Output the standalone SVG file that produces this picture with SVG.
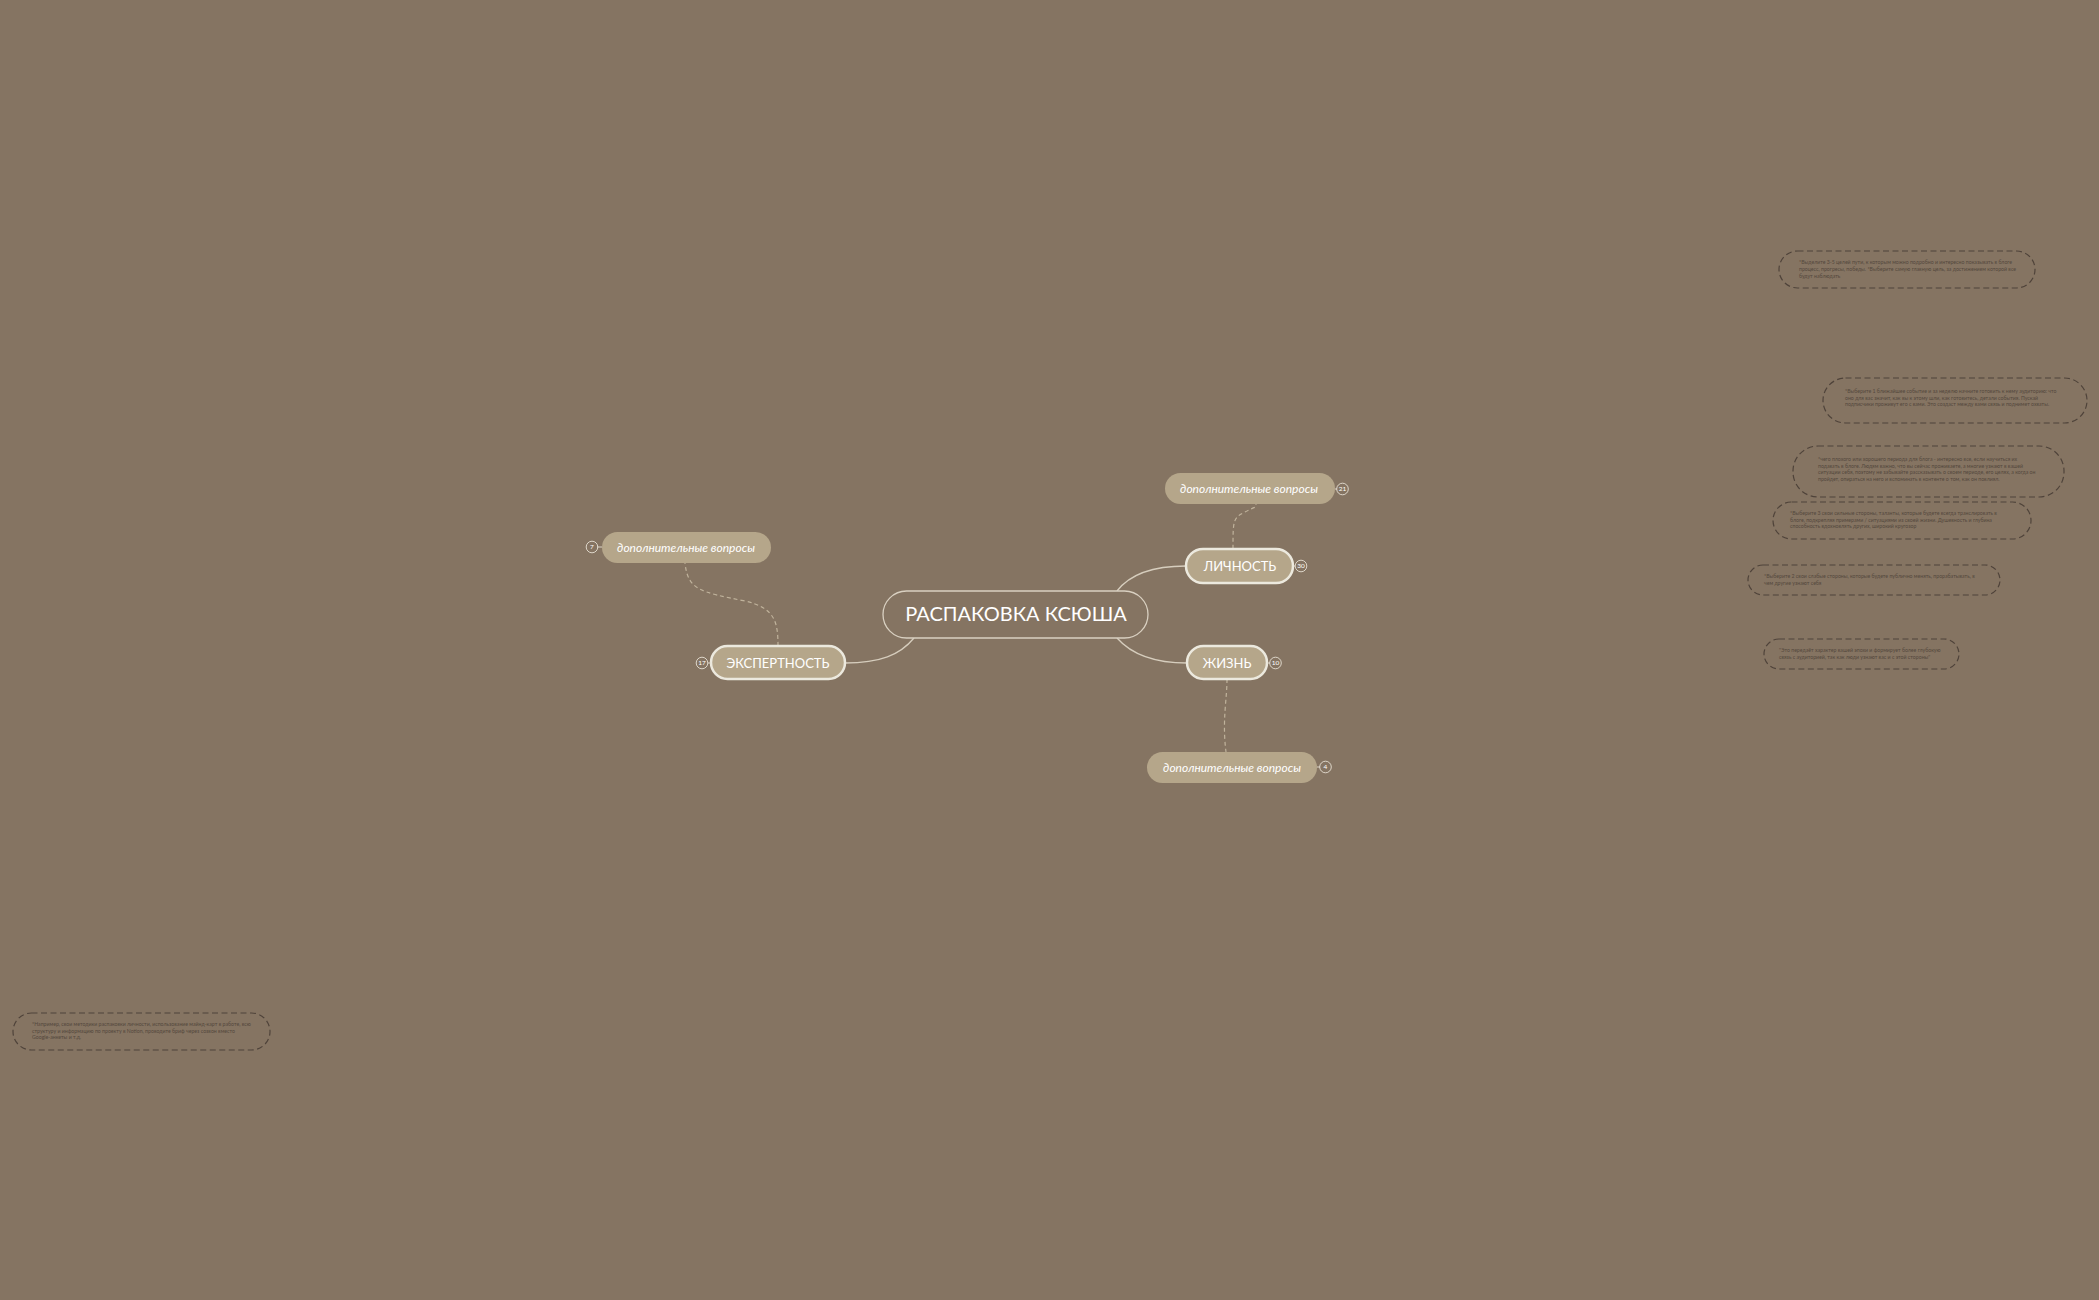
<svg xmlns="http://www.w3.org/2000/svg" width="2099" height="1300" viewBox="0 0 2099 1300">
<style>
.bg{fill:#857462}
.main rect{fill:#857462;stroke:#d9d0c1;stroke-width:1.3}
.main text{font-family:Lato,"Open Sans",sans-serif;font-size:20px;fill:#ffffff;text-anchor:middle}
.topic rect{fill:#b5a68a;stroke:#ece9de;stroke-width:2.5}
.topic text{font-family:Lato,"Open Sans",sans-serif;font-size:13px;fill:#ffffff;text-anchor:middle}
.sub rect{fill:#b5a68a}
.sub text{font-family:Lato,"Open Sans",sans-serif;font-style:italic;font-size:12px;fill:#ffffff;text-anchor:middle}
.badge circle{fill:none;stroke:#e6e0d4;stroke-width:0.9}
.badge line{stroke:#e6e0d4;stroke-width:0.9}
.badge text{font-family:Lato,"Open Sans",sans-serif;font-size:6.5px;fill:#ffffff;text-anchor:middle}
.solid{fill:none;stroke:#d6cdbd;stroke-width:1.3}
.dash{fill:none;stroke:#c0b39c;stroke-width:1.2;stroke-dasharray:4 3}
.note rect{fill:none;stroke:#4f433a;stroke-width:1.2;stroke-dasharray:6 3.5}
.note text{font-family:Lato,"Open Sans",sans-serif;font-size:5.2px;fill:#54483d}
</style>
<rect class="bg" x="0" y="0" width="2099" height="1300"/>
<g id="connectors">
<path class="solid" d="M914,638 C900,655 880,663 845,663"/>
<path class="solid" d="M1117,591 C1130,574 1155,566 1186,566"/>
<path class="solid" d="M1117,638 C1132,655 1155,663 1187,663"/>
<path class="dash" d="M1233,549 C1233,520 1233,518 1245,512 C1256,506 1256,508 1256,504"/>
<path class="dash" d="M1227,679 C1227,700 1222,720 1226,752"/>
<path class="dash" d="M778,646 C778,622 775,608 745,601 C700,592 688,590 685,563"/>
</g>
<g id="center" class="main">
<rect x="883" y="591" width="265" height="47" rx="23.5"/>
<text x="1016" y="621">РАСПАКОВКА КСЮША</text>
</g>
<g id="lichnost" class="topic">
<rect x="1186" y="549" width="107" height="34" rx="17"/>
<text x="1240" y="571">ЛИЧНОСТЬ</text>
</g>
<g id="lichnost-badge" class="badge">
<line x1="1293" y1="566" x2="1295" y2="566"/>
<circle cx="1301" cy="566" r="5.8"/>
<text x="1301" y="568.3">30</text>
</g>
<g id="zhizn" class="topic">
<rect x="1187" y="646" width="80" height="33" rx="16.5"/>
<text x="1227" y="667.5">ЖИЗНЬ</text>
</g>
<g id="zhizn-badge" class="badge">
<line x1="1267" y1="663" x2="1270" y2="663"/>
<circle cx="1275.5" cy="663" r="5.8"/>
<text x="1275.5" y="665.3">10</text>
</g>
<g id="expert" class="topic">
<rect x="711" y="646" width="134" height="33" rx="16.5"/>
<text x="778" y="667.5">ЭКСПЕРТНОСТЬ</text>
</g>
<g id="expert-badge" class="badge">
<line x1="708" y1="663" x2="711" y2="663"/>
<circle cx="702" cy="663" r="5.8"/>
<text x="702" y="665.3">17</text>
</g>
<g id="dop-lichnost" class="sub">
<rect x="1165" y="473" width="170" height="31" rx="15.5"/>
<text x="1249" y="493">дополнительные вопросы</text>
</g>
<g id="dop-lichnost-badge" class="badge">
<line x1="1335" y1="489" x2="1337" y2="489"/>
<circle cx="1342.5" cy="489" r="5.8"/>
<text x="1342.5" y="491.3">21</text>
</g>
<g id="dop-zhizn" class="sub">
<rect x="1147" y="752" width="170" height="31" rx="15.5"/>
<text x="1232" y="772">дополнительные вопросы</text>
</g>
<g id="dop-zhizn-badge" class="badge">
<line x1="1317" y1="767" x2="1320" y2="767"/>
<circle cx="1325.5" cy="767" r="5.8"/>
<text x="1325.5" y="769.3">4</text>
</g>
<g id="dop-expert" class="sub">
<rect x="602" y="532" width="169" height="31" rx="15.5"/>
<text x="686" y="552">дополнительные вопросы</text>
</g>
<g id="dop-expert-badge" class="badge">
<line x1="597" y1="547" x2="602" y2="547"/>
<circle cx="592" cy="547" r="5.8"/>
<text x="592" y="549.3">7</text>
</g>
<g id="note1" class="note">
<rect x="1779" y="251" width="256" height="37" rx="18.5"/>
<text x="1799" y="264">*Выделите 3-5 целей пути, к которым можно подробно и интересно показывать в блоге</text>
<text x="1799" y="271">процесс, прогресы, победы. *Выберите самую главную цель, за достижением которой все</text>
<text x="1799" y="278">будут наблюдать</text>
</g>
<g id="note2" class="note">
<rect x="1823" y="378" width="264" height="45" rx="22.5"/>
<text x="1845" y="393">*Выберите 1 ближайшее событие и за неделю начните готовить к нему аудиторию: что</text>
<text x="1845" y="399.5">оно для вас значит, как вы к этому шли, как готовитесь, детали события. Пускай</text>
<text x="1845" y="406">подписчики проживут его с вами. Это создаст между вами связь и поднимет охваты.</text>
</g>
<g id="note3" class="note">
<rect x="1793" y="446" width="271" height="51" rx="25"/>
<text x="1818" y="461">*чего плохого или хорошего периода для блога - интересно все, если научиться их</text>
<text x="1818" y="467.5">подавать в блоге. Людям важно, что вы сейчас проживаете, а многие узнают в вашей</text>
<text x="1818" y="474">ситуации себя, поэтому не забывайте рассказывать о своем периоде, его целях, а когда он</text>
<text x="1818" y="480.5">пройдет, опираться на него и вспоминать в контенте о том, как он повлиял.</text>
</g>
<g id="note4" class="note">
<rect x="1773" y="502" width="258" height="37" rx="18.5"/>
<text x="1790" y="515">*Выберите 3 свои сильные стороны, таланты, которые будете всегда транслировать в</text>
<text x="1790" y="521.5">блоге, подкрепляя примерами / ситуациями из своей жизни. Душевность и глубина</text>
<text x="1790" y="528">способность вдохновлять других, широкий кругозор</text>
</g>
<g id="note5" class="note">
<rect x="1748" y="565" width="252" height="30" rx="15"/>
<text x="1764" y="578">*Выберите 2 свои слабые стороны, которые будете публично менять, прорабатывать, в</text>
<text x="1764" y="585">чем другие узнают себя</text>
</g>
<g id="note6" class="note">
<rect x="1764" y="639" width="195" height="30" rx="15"/>
<text x="1779" y="652">"Это передаёт характер вашей эпохи и формирует более глубокую</text>
<text x="1779" y="659">связь с аудиторией, так как люди узнают вас и с этой стороны"</text>
</g>
<g id="note7" class="note">
<rect x="13" y="1013" width="257" height="37" rx="18.5"/>
<text x="32" y="1026">*Например, свои методики распаковки личности, использование майнд-карт в работе, всю</text>
<text x="32" y="1032.5">структуру и информацию по проекту в Notion, проводите бриф через созвон вместо</text>
<text x="32" y="1039">Google-анкеты и т.д.</text>
</g>
</svg>
